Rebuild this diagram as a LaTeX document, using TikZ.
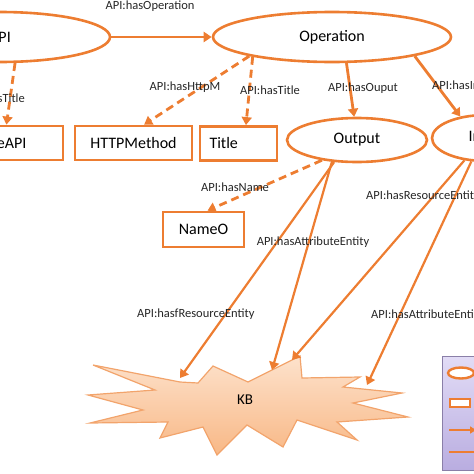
\documentclass[tikz,border=0pt]{standalone}
\usepackage{fontspec}
\setmainfont{Carlito}
\usetikzlibrary{shapes.geometric,arrows.meta}
\definecolor{org}{HTML}{ED7D31}
\definecolor{starline}{HTML}{F2A46C}
\definecolor{startop}{HTML}{FDE2CC}
\definecolor{starbot}{HTML}{F8B886}
\definecolor{lgtop}{HTML}{E2DCF6}
\definecolor{lgbot}{HTML}{B9ADE0}
\definecolor{lgline}{HTML}{8A7FA8}
\tikzset{
  ell/.style={ellipse, draw=org, line width=2.6pt, fill=white, font=\fontsize{16}{18}\selectfont, inner sep=0pt},
  boxn/.style={rectangle, draw=org, line width=2.8pt, fill=white, font=\fontsize{16}{18}\selectfont, minimum height=34pt},
  lab/.style={font=\fontsize{12.5}{14}\selectfont, inner sep=0pt, text=black!85},
  tip/.style={-{Triangle[width=10pt,length=8pt]}},
  solidarr/.style={draw=org, line width=2.8pt, tip},
  thinarr/.style={draw=org, line width=2.2pt, tip},
  dasharr/.style={draw=org, line width=2.8pt, dash pattern=on 8pt off 5pt, tip},
}
\begin{document}
\begin{tikzpicture}[x=1pt,y=-1pt]
\useasboundingbox (0,0) rectangle (474,474);
% KB star
\draw[starline, line width=1.2pt, top color=startop, bottom color=starbot]
 (93,365) -- (180,382) -- (198,383) -- (213,366) -- (248,382) -- (300,356) -- (302,378)
 -- (360,377) -- (343,387) -- (402,393) -- (353,403) -- (408,417) -- (337,422) -- (357,440)
 -- (297,420) -- (283,447) -- (247,425) -- (217,455) -- (203,427) -- (160,438) -- (168,422)
 -- (90,423) -- (143,410) -- (88,395) -- (155,390) -- cycle;
\node[font=\fontsize{15}{17}\selectfont] (kb) at (245,400) {KB};
\coordinate (kb1) at (180,378);
\coordinate (kb2) at (272,370);
\coordinate (kb3) at (292,360);
\coordinate (kb4) at (367,385);
% legend
\draw[draw=lgline, line width=0.8pt, top color=lgtop, bottom color=lgbot] (442,356) rectangle (490,470);
\node[ellipse, draw=org, line width=2.4pt, fill=white, minimum width=26pt, minimum height=11pt, inner sep=0pt] (lgell) at (461,373) {};
\node[rectangle, draw=org, line width=2.4pt, fill=white, minimum width=20pt, minimum height=8pt, inner sep=0pt] (lgbox) at (460,403) {};
\coordinate (lga1) at (449,430);
\coordinate (lga2) at (476,430);
\coordinate (lgl1) at (449,452);
\coordinate (lgl2) at (476,452);
\draw[draw=org, line width=2.4pt, -{Triangle[width=7pt,length=6pt]}] (lga1) -- (lga2);
\draw[draw=org, line width=2.4pt] (lgl1) -- (lgl2);
% nodes
\node[ell, minimum width=220pt, minimum height=50pt] (api) at (0,37) {API};
\node[ell, minimum width=238pt, minimum height=50pt] (op) at (332,37) {Operation};
\node[ell, minimum width=140pt, minimum height=44pt] (out) at (357,140) {Output};
\node[ell, minimum width=108pt, minimum height=46pt] (inp) at (486,138) {Input};
\node[boxn, minimum width=123pt] (tapi) at (1.5,143) {TitleAPI};
\node[boxn, minimum width=117pt] (http) at (133.5,143) {HTTPMethod};
\node[boxn, minimum width=77pt, align=left, text width=58pt] (title) at (238.5,143.5) {Title};
\node[boxn, minimum width=81pt, minimum height=35pt] (nameo) at (203.5,229.5) {NameO};
% connectors
\draw[solidarr] (api.east) -- (op.west);
\draw[dasharr] (api.300) -- (tapi.75);
\draw[dasharr] (op.193.3) -- (http.60);
\draw[dasharr] (op.194.5) -- (title.68);
\draw[solidarr] (op.299.5) -- (out.97.8);
\draw[solidarr] (op.347.6) -- (inp.140);
\draw[dasharr] (out.210.4) -- (nameo.78.7);
\draw[thinarr] (out.224) -- (kb1);
\draw[thinarr] (out.221) -- (kb2);
\draw[thinarr] (inp.226) -- (kb3);
\draw[thinarr] (inp.238) -- (kb4);
% labels
\node[lab] (l1) at (150,6) {API:hasOperation};
\node[lab, anchor=east] (l2) at (25,98) {API:hasTitle};
\node[lab] (l3) at (185,87) {API:hasHttpM};
\node[lab] (l4) at (270,90) {API:hasTitle};
\node[lab] (l5) at (363,88) {API:hasOuput};
\node[lab, anchor=west] (l6) at (432,86) {API:hasInput};
\node[lab] (l7) at (235,187) {API:hasName};
\node[lab, anchor=west] (l8) at (366,196) {API:hasResourceEntity};
\node[lab] (l9) at (313,242) {API:hasAttributeEntity};
\node[lab, anchor=west] (l10) at (137,314) {API:hasfResourceEntity};
\node[lab, anchor=west] (l11) at (371,315) {API:hasAttributeEntity};
\end{tikzpicture}
\end{document}
